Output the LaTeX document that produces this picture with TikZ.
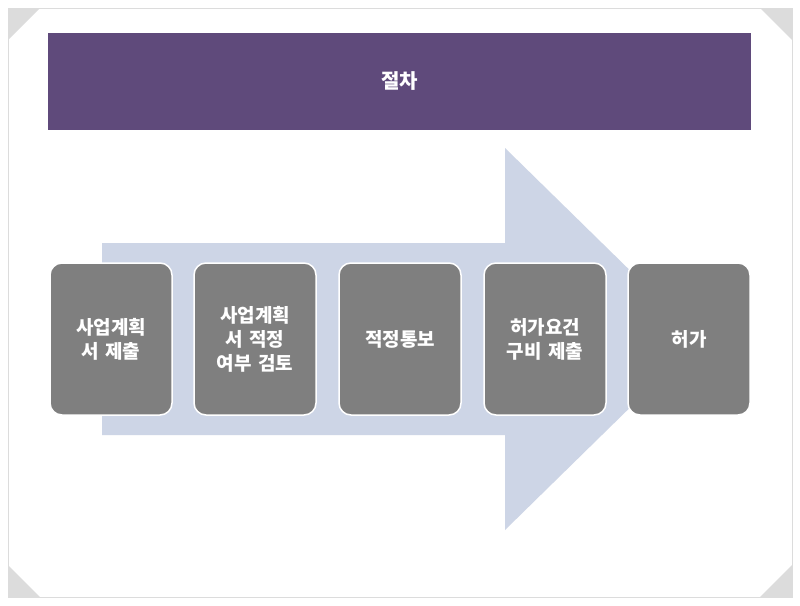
\documentclass[tikz,border=0pt]{standalone}
\usepackage{fontspec}
\setmainfont{Noto Sans CJK KR}
\definecolor{hdrc}{RGB}{95,74,123}
\definecolor{arrc}{RGB}{205,213,230}
\definecolor{boxc}{RGB}{127,127,127}
\definecolor{framec}{RGB}{220,220,220}
\begin{document}
\begin{tikzpicture}[x=1pt,y=-1pt,
  stepbox/.style={draw=white,line width=1.5pt,fill=boxc,rounded corners=12pt,minimum width=122pt,minimum height=152pt,text=white,font=\fontsize{19}{24}\selectfont\bfseries,align=center,text width=105pt,inner sep=0pt}]
\useasboundingbox (0,0) rectangle (800,605);
\fill[white] (0,0) rectangle (800,605);
\draw[framec,line width=1pt] (8,8) rectangle (792,597);
\fill[framec] (8,8)--(40,8)--(8,40)--cycle;
\fill[framec] (792,8)--(760,8)--(792,40)--cycle;
\fill[framec] (8,597)--(40,597)--(8,565)--cycle;
\fill[framec] (792,597)--(760,597)--(792,565)--cycle;
\node[fill=hdrc,minimum width=703pt,minimum height=97pt,inner sep=0pt,text=white,font=\fontsize{20}{24}\selectfont\bfseries] (hdr) at (399.5,81.5) {절차};
\fill[arrc] (102,243)--(505,243)--(505,148)--(700,339)--(505,530)--(505,435)--(102,435)--cycle;
\node[stepbox] (a) at (111,339) {사업계획\\서 제출};
\node[stepbox] (b) at (255,339) {사업계획\\서 적정\\여부 검토};
\node[stepbox] (c) at (400,339) {적정통보};
\node[stepbox] (d) at (545,339) {허가요건\\구비 제출};
\node[stepbox] (e) at (689,339) {허가};
\end{tikzpicture}
\end{document}
